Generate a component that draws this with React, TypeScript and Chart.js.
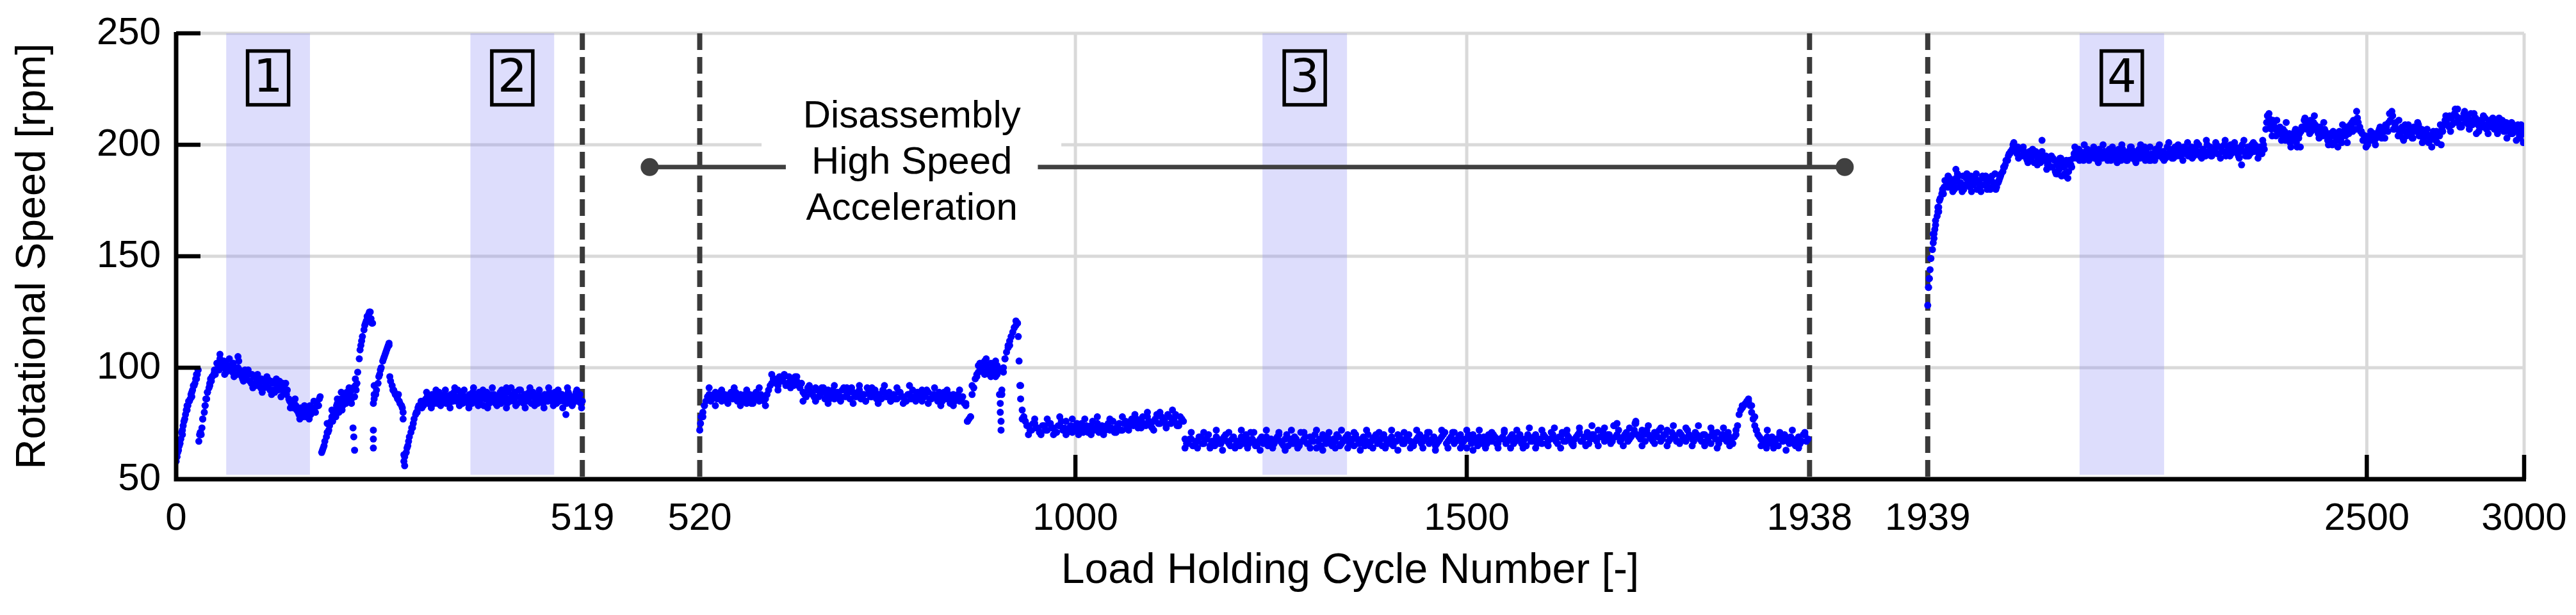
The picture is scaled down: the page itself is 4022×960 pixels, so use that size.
import React, { useEffect, useRef } from "react";
import { Chart, registerables } from "chart.js";

Chart.register(...registerables);

// ---------------- data ----------------
// broken x axis: cycles are shifted into plot positions per segment
const segmentStartCycles = [0, 520, 1939];
const segmentPositionOffsets = [0, 149, 299];
const axisMaxPosition = 3000;

const tickLabels = ["0", "519", "520", "1000", "1500", "1938", "1939", "2500", "3000"];
const tickCycles = [0, 519, 520, 1000, 1500, 1938, 1939, 2500, 2701];
const gridCycles = [1000, 1500, 2500, 2701];
const breakCycles = [519, 520, 1938, 1939];
const yTicks = [50, 100, 150, 200, 250];
const yGrid = [100, 150, 200, 250];

const windowRanges: [number, number][] = [[64, 171], [376, 483], [1239, 1347], [2133, 2241]];
const windowLabels = ["1", "2", "3", "4"];
const windowLabelRpm = 230;
const windowRpmRange = [52, 250];

// segment 1 (cycles 0..519)
const seg1Start = 0;
const seg1Step = 3;
const seg1Rpm = [
  58, 63, 68, 74, 79, 83, 86, 90, 93, 97,
  70, 73, 80, 86, 91, 94, 97, 99, 101, 103,
  100, 102, 99, 101, 98, 100, 97, 99, 96, 98,
  95, 97, 93, 96, 92, 95, 91, 94, 92, 95,
  90, 93, 89, 92, 94, 90, 92, 88, 86, 84,
  82, 83, 80, 82, 78, 81, 79, 83, 80, 82,
  84, 86, 62, 65, 69, 72, 76, 79, 78, 82,
  85, 83, 87, 85, 88, 90, 87, 93, 104, 112,
  117, 121, 124, 122, 84, 88, 93, 99, 103, 106,
  109, 96, 92, 89, 87, 85, 83, 58, 62, 67,
  71, 75, 79, 82, 83, 85, 84, 87, 85, 88,
  84, 86, 89, 85, 87, 84, 86, 88, 85, 87,
  90, 86, 84, 87, 85, 88, 84, 87, 85, 89,
  86, 83, 87, 85, 88, 86, 84, 87, 89, 85,
  87, 84, 86, 88, 85, 87, 90, 86, 84, 88,
  85, 87, 89, 86, 84, 87, 85, 88, 86, 89,
  85, 87, 84, 86, 88, 85, 87, 89, 86, 84,
  87, 85, 88, 85,
];
const seg1BStart = 1;
const seg1BRpm = [
  60, 65, 71, 76, 81, 85, 88, 92, 95, 99,
  71, 77, 83, 89, 93, 96, 99, 102, 99, 101,
  103, 98, 101, 99, 102, 97, 100, 98, 95, 99,
  97, 94, 97, 93, 96, 93, 95, 91, 93, 91,
  94, 90, 93, 90, 91, 93, 89, 90, 85, 83,
  84, 81, 79, 81, 80, 78, 81, 79, 82, 80,
  83, 87, 63, 67, 71, 74, 78, 80, 83, 80,
  86, 88, 84, 89, 87, 91, 92, 98, 108, 114,
  119, 123, 125, 120, 86, 90, 96, 100, 104, 107,
  110, 94, 90, 88, 86, 84, 82, 60, 64, 69,
  73, 77, 80, 83, 85, 83, 86, 84, 87, 85,
  88, 84, 87, 85, 88, 86, 84, 87, 89, 85,
  87, 88, 85, 87, 84, 86, 89, 85, 87, 84,
  88, 86, 89, 84, 86, 88, 85, 87, 84, 88,
  86, 89, 85, 87, 89, 84, 87, 85, 88, 86,
  89, 84, 87, 85, 88, 86, 84, 87, 85, 88,
  86, 89, 87, 85, 88, 86, 84, 88, 85, 87,
  89, 86, 84,
];
const seg1CStart = 2;
const seg1CStep = 6;
const seg1CRpm = [
  62, 70, 83, 87, 97, 70, 86, 95, 97, 104,
  97, 104, 96, 103, 94, 99, 91, 97, 89, 96,
  88, 95, 87, 93, 82, 86, 77, 83, 77, 85,
  83, 64, 71, 76, 86, 81, 89, 84, 90, 110,
  120, 125, 88, 97, 105, 110, 90, 88, 80, 65,
  73, 80, 82, 89, 82, 90, 83, 90, 82, 91,
  83, 90, 82, 91, 83, 90, 82, 91, 83, 90,
  82, 91, 83, 90, 82, 91, 83, 90, 82, 91,
  83, 90, 82, 91, 83, 90, 82,
];

// segment 2 (cycles 520..1938)
const seg2Start = 520;
const seg2Step = 4;
const seg2Rpm = [
  72, 80, 85, 88, 86, 89, 87, 85, 88, 86,
  89, 87, 85, 88, 86, 84, 88, 86, 89, 85,
  87, 86, 90, 93, 95, 92, 94, 96, 93, 95,
  92, 94, 91, 89, 87, 90, 88, 91, 87, 89,
  86, 90, 88, 86, 89, 87, 91, 88, 86, 89,
  87, 90, 88, 85, 89, 87, 90, 88, 86, 89,
  87, 85, 88, 86, 89, 87, 85, 88, 90, 86,
  88, 85, 87, 89, 86, 88, 85, 87, 89, 86,
  84, 88, 86, 85, 87, 84, 77, 88, 95, 98,
  100, 97, 99, 102, 98, 97, 80, 100, 107, 112,
  116, 119, 103, 81, 76, 74, 72, 75, 73, 71,
  74, 72, 75, 73, 71, 74, 72, 76, 73, 71,
  74, 72, 75, 73, 71, 74, 72, 75, 73, 71,
  74, 72, 76, 73, 75, 72, 76, 74, 77, 75,
  73, 77, 75, 78, 74, 76, 79, 75, 77, 74,
  78, 76, 79, 75, 77, 68, 66, 68, 65, 67,
  69, 66, 68, 65, 67, 69, 66, 68, 70, 66,
  68, 65, 67, 69, 66, 68, 71, 67, 65, 68,
  66, 69, 67, 65, 68, 70, 66, 68, 65, 67,
  69, 66, 71, 68, 66, 69, 67, 64, 68, 70,
  66, 68, 65, 67, 69, 66, 68, 70, 67, 65,
  68, 66, 69, 67, 65, 68, 70, 67, 65, 68,
  66, 69, 67, 70, 68, 66, 69, 67, 65, 68,
  70, 67, 69, 66, 68, 65, 67, 69, 71, 67,
  69, 66, 68, 70, 67, 64, 68, 70, 67, 69,
  66, 68, 70, 67, 69, 66, 68, 71, 67, 69,
  66, 68, 70, 67, 65, 69, 67, 70, 68, 66,
  69, 67, 71, 68, 66, 69, 67, 70, 68, 66,
  69, 71, 67, 69, 66, 70, 68, 72, 69, 67,
  70, 68, 74, 70, 67, 69, 71, 68, 70, 75,
  69, 72, 67, 70, 68, 71, 69, 67, 70, 72,
  68, 70, 67, 71, 69, 67, 70, 68, 71, 69,
  67, 70, 68, 66, 69, 71, 68, 70, 67, 69,
  66, 70, 79, 82, 84, 85, 80, 74, 70, 68,
  66, 69, 67, 65, 68, 70, 67, 69, 66, 68,
  65, 69, 67, 70, 68,
];
const seg2BStart = 522;
const seg2BRpm = [
  78, 83, 87, 85, 88, 86, 89, 87, 85, 88,
  86, 89, 87, 85, 88, 86, 84, 88, 86, 88,
  85, 88, 92, 95, 93, 96, 94, 92, 96, 94,
  96, 92, 93, 88, 91, 89, 87, 90, 88, 91,
  88, 86, 90, 88, 86, 90, 87, 89, 91, 87,
  89, 86, 88, 91, 87, 89, 86, 88, 90, 87,
  89, 87, 86, 89, 87, 85, 88, 86, 87, 89,
  86, 88, 90, 86, 88, 87, 89, 85, 87, 88,
  86, 85, 88, 86, 84, 76, 78, 91, 97, 100,
  98, 101, 97, 99, 103, 99, 88, 104, 109, 114,
  118, 120, 92, 78, 74, 72, 75, 73, 71, 74,
  72, 75, 73, 71, 74, 76, 73, 71, 74, 72,
  75, 73, 71, 74, 72, 76, 73, 71, 74, 72,
  75, 73, 71, 74, 72, 75, 73, 76, 74, 77,
  75, 78, 74, 76, 73, 77, 75, 78, 76, 79,
  75, 77, 74, 78, 76, 66, 68, 65, 67, 69,
  66, 68, 70, 67, 65, 68, 66, 69, 67, 65,
  69, 67, 65, 68, 70, 66, 68, 65, 67, 69,
  67, 65, 68, 66, 69, 67, 65, 70, 68, 66,
  68, 65, 67, 69, 66, 68, 70, 67, 65, 68,
  69, 66, 68, 70, 65, 67, 69, 66, 68, 70,
  66, 68, 65, 70, 67, 69, 66, 68, 70, 66,
  68, 65, 67, 69, 66, 68, 70, 65, 67, 69,
  66, 68, 71, 67, 69, 66, 68, 70, 66, 68,
  71, 67, 69, 66, 68, 70, 66, 68, 65, 67,
  69, 66, 68, 70, 66, 68, 69, 66, 68, 70,
  67, 69, 66, 68, 70, 67, 69, 66, 68, 70,
  66, 68, 70, 67, 69, 71, 67, 69, 66, 68,
  70, 67, 69, 71, 68, 70, 67, 69, 71, 68,
  70, 67, 69, 72, 68, 70, 67, 69, 72, 70,
  68, 70, 72, 69, 67, 70, 72, 68, 70, 67,
  71, 69, 67, 70, 68, 72, 69, 67, 70, 68,
  70, 67, 69, 71, 68, 66, 70, 68, 71, 67,
  69, 74, 81, 83, 85, 83, 77, 72, 69, 67,
  68, 66, 69, 67, 65, 68, 70, 67, 69, 66,
  68, 66, 70, 67,
];
const seg2CStart = 524;
const seg2CStep = 8;
const seg2CRpm = [
  78, 91, 83, 90, 84, 91, 83, 90, 84, 91,
  83, 97, 90, 97, 91, 96, 85, 92, 85, 91,
  84, 92, 85, 91, 84, 92, 85, 91, 84, 92,
  85, 91, 84, 92, 85, 90, 84, 91, 83, 90,
  83, 90, 83, 92, 101, 103, 96, 101, 98, 110,
  121, 77, 70, 77, 70, 77, 70, 78, 70, 77,
  70, 77, 70, 78, 70, 77, 71, 78, 72, 79,
  73, 80, 72, 80, 73, 81, 74, 64, 71, 64,
  71, 64, 72, 63, 71, 64, 72, 64, 71, 63,
  72, 64, 71, 63, 72, 64, 71, 64, 72, 63,
  71, 64, 72, 64, 71, 63, 72, 64, 71, 64,
  72, 63, 71, 64, 72, 64, 71, 63, 72, 64,
  71, 64, 72, 63, 72, 64, 71, 64, 72, 64,
  72, 64, 73, 64, 72, 65, 73, 64, 72, 65,
  73, 65, 74, 65, 73, 66, 75, 65, 73, 76,
  65, 74, 66, 73, 65, 74, 66, 73, 65, 74,
  65, 73, 64, 73, 65, 72, 83, 86, 78, 65,
  72, 64, 71, 63, 72, 64, 71,
];

// segment 3 (cycles 1939..2701)
const seg3Start = 1939;
const seg3Step = 3;
const seg3Rpm = [
  128, 144, 153, 162, 168, 175, 178, 181, 183, 181,
  184, 182, 185, 181, 183, 186, 182, 184, 181, 185,
  183, 180, 184, 182, 185, 183, 181, 184, 182, 180,
  183, 186, 188, 191, 193, 196, 198, 199, 196, 198,
  195, 197, 194, 196, 193, 195, 197, 194, 192, 195,
  193, 191, 194, 190, 193, 191, 189, 192, 190, 193,
  188, 191, 194, 197, 195, 197, 194, 196, 198, 195,
  197, 194, 196, 198, 195, 197, 194, 196, 193, 195,
  197, 194, 196, 198, 195, 193, 196, 194, 197, 195,
  198, 196, 194, 197, 195, 193, 196, 198, 195, 197,
  194, 196, 199, 196, 194, 197, 195, 198, 196, 199,
  197, 195, 198, 196, 199, 197, 195, 198, 196, 200,
  197, 195, 198, 200, 196, 199, 197, 195, 198, 200,
  197, 199, 196, 198, 200, 197, 195, 198, 200, 197,
  199, 196, 198, 200, 207, 210, 208, 211, 207, 205,
  208, 204, 206, 203, 205, 202, 204, 201, 203, 206,
  208, 210, 208, 211, 207, 209, 206, 208, 205, 207,
  204, 202, 204, 201, 203, 205, 203, 206, 204, 207,
  209, 206, 210, 212, 208, 205, 203, 201, 204, 202,
  205, 203, 206, 204, 207, 209, 206, 211, 213, 209,
  207, 205, 208, 206, 204, 207, 205, 208, 206, 209,
  205, 203, 206, 204, 202, 205, 203, 201, 204, 207,
  209, 211, 208, 212, 210, 213, 211, 209, 212, 210,
  213, 211, 209, 212, 210, 208, 211, 209, 207, 210,
  208, 211, 209, 207, 210, 208, 206, 209, 207, 205,
  208, 206, 204, 207, 205,
];
const seg3BStart = 1940;
const seg3BRpm = [
  136, 149, 160, 166, 172, 176, 180, 184, 181, 185,
  182, 180, 184, 186, 182, 180, 185, 183, 186, 182,
  185, 183, 181, 186, 182, 180, 184, 186, 183, 181,
  184, 187, 190, 193, 195, 197, 200, 197, 199, 195,
  198, 196, 193, 197, 195, 192, 196, 193, 196, 193,
  195, 192, 190, 194, 188, 192, 194, 190, 187, 191,
  193, 190, 196, 194, 198, 196, 193, 197, 195, 197,
  195, 198, 193, 196, 194, 197, 195, 198, 196, 194,
  195, 198, 193, 196, 194, 197, 199, 195, 193, 196,
  194, 197, 199, 195, 193, 196, 194, 197, 199, 195,
  197, 194, 196, 198, 195, 199, 197, 195, 198, 196,
  198, 196, 199, 195, 197, 200, 196, 198, 195, 197,
  199, 196, 198, 196, 199, 197, 200, 196, 198, 196,
  199, 197, 195, 199, 197, 195, 199, 196, 198, 200,
  197, 199, 196, 198, 210, 212, 207, 209, 204, 207,
  205, 207, 202, 204, 201, 203, 206, 199, 205, 208,
  211, 207, 209, 206, 210, 208, 205, 207, 204, 206,
  202, 205, 200, 204, 202, 206, 201, 205, 208, 205,
  208, 211, 207, 210, 206, 202, 204, 200, 203, 205,
  202, 205, 207, 203, 206, 208, 210, 214, 207, 210,
  204, 207, 203, 209, 205, 207, 203, 206, 208, 204,
  207, 202, 205, 201, 204, 206, 202, 205, 209, 206,
  211, 209, 213, 209, 214, 210, 212, 208, 214, 211,
  209, 214, 210, 212, 209, 211, 208, 212, 209, 211,
  210, 207, 210, 212, 208, 206, 210, 207, 205, 209,
  206, 209, 203, 206,
];
const seg3CStart = 1941;
const seg3CStep = 6;
const seg3CRpm = [
  140, 158, 170, 178, 186, 179, 187, 179, 187, 179,
  187, 179, 186, 180, 187, 185, 190, 196, 201, 194,
  199, 192, 198, 191, 197, 189, 195, 187, 194, 186,
  193, 199, 193, 200, 193, 199, 192, 200, 193, 199,
  192, 200, 193, 199, 192, 200, 193, 199, 193, 200,
  193, 201, 194, 200, 193, 201, 194, 201, 194, 202,
  195, 201, 194, 202, 195, 201, 194, 202, 195, 201,
  194, 202, 213, 204, 211, 202, 210, 199, 207, 199,
  212, 205, 213, 203, 210, 200, 206, 199, 209, 201,
  210, 215, 206, 199, 206, 200, 208, 203, 214, 207,
  211, 202, 209, 203, 210, 201, 207, 199, 206, 200,
  213, 206, 216, 208, 215, 207, 214, 206, 213, 205,
  212, 205, 211, 203, 210, 202, 209,
];

// extra individual readings [cycle, rpm]
const strayPoints: [number, number][] = [
  [1, 60], [5, 66], [8, 72], [11, 77], [14, 81], [17, 85], [20, 89], [23, 92], [26, 95], [28, 99],
  [29, 67], [31, 71], [34, 77], [37, 83], [40, 89], [43, 92], [46, 96], [49, 98], [56, 106], [79, 105],
  [226, 73], [227, 69], [228, 63], [251, 120], [253, 92], [253, 88], [252, 72], [252, 68], [252, 64],
  [269, 108], [272, 111], [290, 77], [291, 61], [292, 56], [193, 75], [199, 81], [206, 84], [211, 89],
  [216, 84], [221, 91], [224, 86], [229, 95], [422, 91], [498, 79],
  [521, 75], [522, 78], [526, 83], [862, 76], [866, 78], [870, 91], [874, 96], [878, 102], [886, 104],
  [894, 100], [898, 96], [903, 88], [904, 84], [905, 76], [905, 72], [906, 90], [910, 104], [914, 110],
  [918, 114], [922, 118], [926, 120], [927, 114], [929, 92], [930, 86], [934, 78], [1688, 74], [1715, 75],
  [1864, 83], [1866, 77], [1870, 72], [1883, 64],
  [1940, 136], [1941, 140], [1943, 149], [1946, 156], [1947, 160], [1949, 164], [1952, 170], [1953, 172],
  [1958, 179], [1975, 189], [2085, 202], [2105, 187], [2110, 186], [2118, 185], [2375, 214], [2340, 191],
  [2532, 215], [2616, 216], [2640, 205], [2700, 201],
];

// annotation (positions on the plotted axis, rpm on y)
const annotationLines = ["Disassembly", "High Speed", "Acceleration"];
const annotationRpm = 190;
const annotationStartPos = 605;
const annotationEndPos = 2132;
const annotationGapPos = [779, 1101];
const annotationBoxPos = [748, 1131];
const annotationTextPos = 940;

// ---------------- helpers ----------------
function toPos(c: number): number {
  let k = 0;
  for (let i = 0; i < segmentStartCycles.length; i++) if (c >= segmentStartCycles[i]) k = i;
  return c + segmentPositionOffsets[k];
}

function buildPoints() {
  const pts: { x: number; y: number }[] = [];
  const add = (arr: number[], start: number, step: number) =>
    arr.forEach((v, i) => pts.push({ x: toPos(start + i * step), y: v }));
  add(seg1CRpm, seg1CStart, seg1CStep);
  add(seg2CRpm, seg2CStart, seg2CStep);
  add(seg3CRpm, seg3CStart, seg3CStep);
  add(seg1Rpm, seg1Start, seg1Step);
  add(seg1BRpm, seg1BStart, seg1Step);
  add(seg2Rpm, seg2Start, seg2Step);
  add(seg2BRpm, seg2BStart, seg2Step);
  add(seg3Rpm, seg3Start, seg3Step);
  add(seg3BRpm, seg3BStart, seg3Step);
  strayPoints.forEach(([c, v]) => pts.push({ x: toPos(c), y: v }));
  return pts;
}

const FONT = "'Liberation Sans', Arial, sans-serif";

const decorPlugin = {
  id: "decor",
  beforeDatasetsDraw(chart: any) {
    const { ctx, chartArea: a, scales } = chart;
    const x = scales.x, y = scales.y;
    ctx.save();
    ctx.strokeStyle = "#d9d9d9";
    ctx.lineWidth = 5;
    ctx.beginPath();
    yGrid.forEach((v) => {
      const py = y.getPixelForValue(v);
      ctx.moveTo(a.left, py);
      ctx.lineTo(a.right, py);
    });
    gridCycles.forEach((c) => {
      const px = x.getPixelForValue(toPos(c));
      ctx.moveTo(px, a.top);
      ctx.lineTo(px, a.bottom);
    });
    ctx.stroke();
    ctx.fillStyle = "rgba(142,142,245,0.3)";
    const yt = y.getPixelForValue(windowRpmRange[1]);
    const yb = y.getPixelForValue(windowRpmRange[0]);
    windowRanges.forEach(([c0, c1]) => {
      const x0 = x.getPixelForValue(toPos(c0));
      const x1 = x.getPixelForValue(toPos(c1));
      ctx.fillRect(x0, yt, x1 - x0, yb - yt);
    });
    ctx.strokeStyle = "#3a3a3a";
    ctx.lineWidth = 8;
    ctx.setLineDash([26, 11]);
    breakCycles.forEach((c) => {
      const px = x.getPixelForValue(toPos(c));
      ctx.beginPath();
      ctx.moveTo(px, a.top);
      ctx.lineTo(px, a.bottom);
      ctx.stroke();
    });
    ctx.restore();
  },
  afterDatasetsDraw(chart: any) {
    const { ctx, chartArea: a, scales } = chart;
    const x = scales.x, y = scales.y;
    ctx.save();
    const ly = y.getPixelForValue(annotationRpm);
    ctx.fillStyle = "#ffffff";
    const bx0 = x.getPixelForValue(annotationBoxPos[0]);
    const bx1 = x.getPixelForValue(annotationBoxPos[1]);
    ctx.fillRect(bx0, ly - 112, bx1 - bx0, 210);
    ctx.strokeStyle = "#404040";
    ctx.fillStyle = "#404040";
    ctx.lineWidth = 7;
    const sx = x.getPixelForValue(annotationStartPos);
    const ex = x.getPixelForValue(annotationEndPos);
    ctx.beginPath();
    ctx.moveTo(sx, ly);
    ctx.lineTo(x.getPixelForValue(annotationGapPos[0]), ly);
    ctx.moveTo(x.getPixelForValue(annotationGapPos[1]), ly);
    ctx.lineTo(ex, ly);
    ctx.stroke();
    [sx, ex].forEach((px) => {
      ctx.beginPath();
      ctx.arc(px, ly, 14, 0, Math.PI * 2);
      ctx.fill();
    });
    ctx.fillStyle = "#000000";
    ctx.font = `60px ${FONT}`;
    ctx.textAlign = "center";
    ctx.textBaseline = "alphabetic";
    const tx = x.getPixelForValue(annotationTextPos);
    const offs = [-62, 10, 82];
    annotationLines.forEach((t, i) => ctx.fillText(t, tx, ly + offs[i]));
    const cy = y.getPixelForValue(windowLabelRpm);
    windowRanges.forEach(([c0, c1], i) => {
      const cx = (x.getPixelForValue(toPos(c0)) + x.getPixelForValue(toPos(c1))) / 2;
      ctx.strokeStyle = "#000000";
      ctx.lineWidth = 5.5;
      ctx.strokeRect(cx - 32, cy - 42, 64, 84);
      ctx.fillStyle = "#000000";
      ctx.font = `72px 'DejaVu Sans', sans-serif`;
      ctx.textAlign = "center";
      ctx.textBaseline = "middle";
      ctx.fillText(windowLabels[i], cx, cy + 3);
    });
    ctx.strokeStyle = "#000000";
    ctx.lineWidth = 7;
    ctx.beginPath();
    ctx.moveTo(a.left, a.top - 2);
    ctx.lineTo(a.left, a.bottom + 3.5);
    ctx.moveTo(a.left - 3.5, a.bottom);
    ctx.lineTo(a.right + 3, a.bottom);
    ctx.stroke();
    ctx.lineWidth = 6.5;
    ctx.beginPath();
    gridCycles.forEach((c) => {
      const px = x.getPixelForValue(toPos(c));
      ctx.moveTo(px, a.bottom);
      ctx.lineTo(px, a.bottom - 38);
    });
    yGrid.forEach((v) => {
      const py = y.getPixelForValue(v);
      ctx.moveTo(a.left, py);
      ctx.lineTo(a.left + 38, py);
    });
    ctx.stroke();
    ctx.restore();
  },
};

export default function App() {
  const ref = useRef<HTMLCanvasElement | null>(null);
  useEffect(() => {
    if (!ref.current) return;
    const tickPositions = tickCycles.map((c) => Math.min(toPos(c), axisMaxPosition));
    const chart = new Chart(ref.current, {
      type: "scatter",
      data: {
        datasets: [
          {
            data: buildPoints(),
            backgroundColor: "#0000ff",
            borderWidth: 0,
            pointRadius: 5.5,
            pointHoverRadius: 5.5,
          },
        ],
      },
      options: {
        animation: false,
        responsive: false,
        devicePixelRatio: 1,
        layout: { padding: { left: 0, right: 73, top: 44, bottom: 0 } },
        plugins: { legend: { display: false }, tooltip: { enabled: false } },
        scales: {
          x: {
            type: "linear",
            min: 0,
            max: axisMaxPosition,
            grid: { display: false, drawTicks: false },
            border: { display: false },
            afterBuildTicks: (scale: any) => {
              scale.ticks = tickPositions.map((v) => ({ value: v }));
            },
            afterFit: (scale: any) => {
              scale.height = 204;
              scale.paddingLeft = 0;
              scale.paddingRight = 0;
            },
            ticks: {
              autoSkip: false,
              maxRotation: 0,
              padding: 26,
              color: "#000000",
              font: { family: FONT, size: 60 },
              callback: (_v: any, i: number) => tickLabels[i],
            },
            title: {
              display: true,
              text: "Load Holding Cycle Number [-]",
              color: "#000000",
              font: { family: FONT, size: 66 },
              padding: { bottom: 21, top: 0 },
            },
          },
          y: {
            type: "linear",
            min: 50,
            max: 250,
            grid: { display: false, drawTicks: false },
            border: { display: false },
            afterBuildTicks: (scale: any) => {
              scale.ticks = yTicks.map((v) => ({ value: v }));
            },
            afterFit: (scale: any) => {
              scale.width = 267;
              scale.paddingTop = 0;
              scale.paddingBottom = 0;
            },
            ticks: {
              padding: 24,
              color: "#000000",
              font: { family: FONT, size: 60 },
            },
            title: {
              display: true,
              text: "Rotational Speed [rpm]",
              color: "#000000",
              font: { family: FONT, size: 65 },
              padding: { top: 5, bottom: 0 },
            },
          },
        },
      },
      plugins: [decorPlugin],
    });
    return () => chart.destroy();
  }, []);
  return (
    <div style={{ width: 4006, height: 944 }}>
      <canvas ref={ref} width={4006} height={944} style={{ width: 4006, height: 944, display: "block" }} />
    </div>
  );
}
